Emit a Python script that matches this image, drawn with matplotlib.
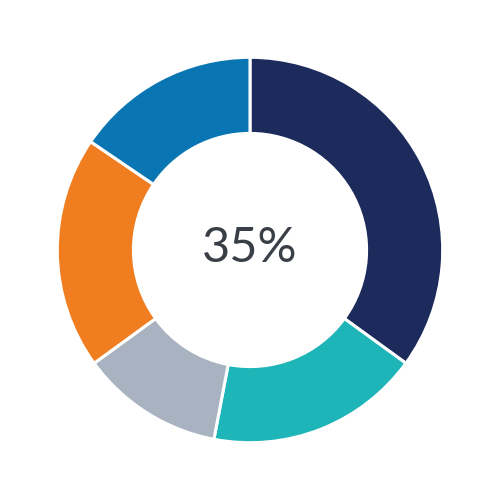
import matplotlib
matplotlib.use("Agg")
import matplotlib.pyplot as plt

# slice shares, clockwise from 12 o'clock
shares = [35, 18, 12, 19.5, 15.5]
colors = ["#1c2b5b", "#1db5b7", "#a9b2c0", "#f07d1f", "#0976b3"]
center_label = "35%"

fig = plt.figure(figsize=(5, 5), dpi=100)
ax = fig.add_axes([0, 0, 1, 1])

ax.pie(shares, colors=colors, startangle=90, counterclock=False, radius=1.0,
       wedgeprops=dict(width=0.395, edgecolor="white", linewidth=2.2))

ax.text(0, 0.01, center_label, ha="center", va="center", fontsize=35,
        family="Lato", fontweight="normal", color="#3a3f47")

lim = 250 / 192.7
ax.set_xlim(-lim, lim)
ax.set_ylim(-lim, lim)
ax.set_aspect("equal")
ax.axis("off")

fig.savefig("out.png", dpi=100, facecolor="white")
